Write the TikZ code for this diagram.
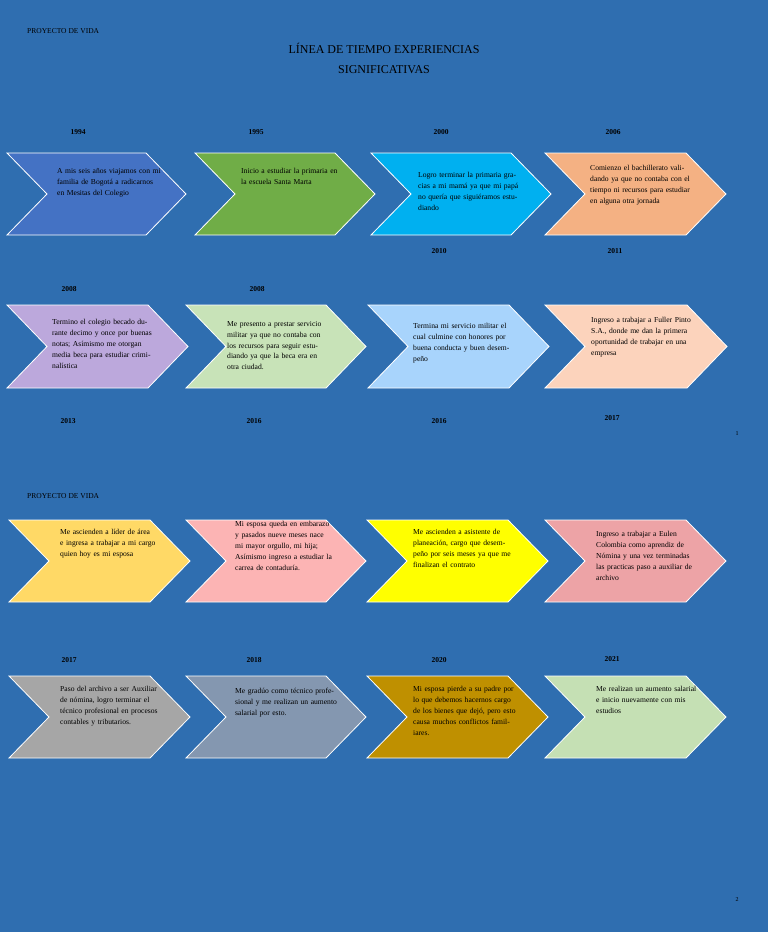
\documentclass[tikz,border=0pt]{standalone}
\usepackage{fontspec}
\setmainfont{Liberation Serif}
\definecolor{page}{HTML}{2F6EB0}
\definecolor{chev1}{HTML}{4472C4}
\definecolor{chev2}{HTML}{70AD47}
\definecolor{chev3}{HTML}{00B0F0}
\definecolor{chev4}{HTML}{F4B183}
\definecolor{chev5}{HTML}{BCA8DC}
\definecolor{chev6}{HTML}{C8E3B8}
\definecolor{chev7}{HTML}{A8D4FC}
\definecolor{chev8}{HTML}{FCD3BC}
\definecolor{chev9}{HTML}{FFD966}
\definecolor{chev10}{HTML}{FCB4B4}
\definecolor{chev11}{HTML}{FFFF00}
\definecolor{chev12}{HTML}{EDA3A6}
\definecolor{chev13}{HTML}{A6A6A6}
\definecolor{chev14}{HTML}{8497B0}
\definecolor{chev15}{HTML}{BF9000}
\definecolor{chev16}{HTML}{C5E0B4}
\tikzstyle{chevron}=[draw=white, line width=0.8pt]
\tikzstyle{event}=[anchor=north west, inner sep=0pt, text width=104pt, align=left,
  font=\fontsize{7.6}{10.9}\selectfont]
\tikzstyle{year}=[inner sep=0pt, font=\fontsize{7.5}{9}\selectfont\bfseries]
\tikzstyle{small}=[anchor=west, inner sep=0pt, font=\fontsize{7.5}{9}\selectfont]
% chevron: left, right, top, bottom, colour
\newcommand{\chev}[5]{%
  \fill[#5] (#1,#3) -- (#2-40,#3) -- (#2,{(#3+#4)/2}) -- (#2-40,#4) -- (#1,#4)
    -- (#1+40,{(#3+#4)/2}) -- cycle;
  \draw[chevron] (#1,#3) -- (#2-40,#3) -- (#2,{(#3+#4)/2}) -- (#2-40,#4) -- (#1,#4)
    -- (#1+40,{(#3+#4)/2}) -- cycle;}
\begin{document}
\begin{tikzpicture}[x=1pt, y=-1pt]
      \fill[page] (0,0) rectangle (768,932);
      \useasboundingbox (0,0) rectangle (768,932);

      \node (head1) at (27, 31) [small] {PROYECTO DE VIDA};
      \node (title) at (384, 58) [align=center, font=\fontsize{12}{20}\selectfont]
            {LÍNEA DE TIEMPO EXPERIENCIAS\\SIGNIFICATIVAS};

      % row 1
      \chev{7}{186}{153}{235}{chev1}
      \chev{195}{375}{153}{235}{chev2}
      \chev{371}{551}{153}{235}{chev3}
      \chev{545}{726}{153}{235}{chev4}
      \node (year1) at (78, 132) [year] {1994};
      \node (year2) at (256, 132) [year] {1995};
      \node (year3) at (441, 132) [year] {2000};
      \node (year4) at (613, 132) [year] {2006};
      \node (event1) at (57, 168) [event] {A mis seis años viajamos con mi familia de Bogotá a radicarnos en Mesitas del Colegio};
      \node (event2) at (241, 168) [event] {Inicio a estudiar la primaria en la escuela Santa Marta};
      \node (event3) at (418, 172) [event] {Logro terminar la primaria gracias a mi mamá ya que mi papá no quería que siguiéramos estudiando};
      \node (event4) at (590, 165) [event] {Comienzo el bachillerato validando ya que no contaba con el tiempo ni recursos para estudiar en alguna otra jornada};
      \node (year5) at (439, 251) [year] {2010};
      \node (year6) at (615, 251) [year] {2011};

      % row 2
      \chev{7}{188}{305}{388}{chev5}
      \chev{186}{366}{305}{388}{chev6}
      \chev{368}{549}{305}{388}{chev7}
      \chev{545}{727}{305}{388}{chev8}
      \node (year7) at (69, 289) [year] {2008};
      \node (year8) at (257, 289) [year] {2008};
      \node (event5) at (52, 319) [event] {Termino el colegio becado durante decimo y once por buenas notas; Asímismo me otorgan media beca para estudiar criminalística};
      \node (event6) at (227, 321) [event] {Me presento a prestar servicio militar ya que no contaba con los recursos para seguir estudiando ya que la beca era en otra ciudad.};
      \node (event7) at (413, 323) [event] {Termina mi servicio militar el cual culmine con honores por buena conducta y buen desempeño};
      \node (event8) at (591, 317) [event] {Ingreso a trabajar a Fuller Pinto S.A., donde me dan la primera oportunidad de trabajar en una empresa};
      \node (year9) at (68, 421) [year] {2013};
      \node (year10) at (254, 421) [year] {2016};
      \node (year11) at (439, 421) [year] {2016};
      \node (year12) at (612, 418) [year] {2017};
      \node (page1) at (737, 434) [year, font=\fontsize{6}{7}\selectfont] {1};

      % row 3
      \node (head2) at (27, 496) [small] {PROYECTO DE VIDA};
      \chev{9}{190}{520}{602}{chev9}
      \chev{186}{366}{520}{602}{chev10}
      \chev{367}{548}{520}{602}{chev11}
      \chev{545}{726}{520}{602}{chev12}
      \node (event9) at (60, 529) [event] {Me ascienden a líder de área e ingresa a trabajar a mi cargo quien hoy es mi esposa};
      \node (event10) at (235, 521) [event] {Mi esposa queda en embarazo y pasados nueve meses nace mi mayor orgullo, mi hija; Asímismo ingreso a estudiar la carrea de contaduría.};
      \node (event11) at (413, 529) [event] {Me ascienden a asistente de planeación, cargo que desempeño por seis meses ya que me finalizan el contrato};
      \node (event12) at (596, 531) [event] {Ingreso a trabajar a Eulen Colombia como aprendiz de Nómina y una vez terminadas las practicas paso a auxiliar de archivo};

      % row 4
      \chev{9}{190}{676}{758}{chev13}
      \chev{186}{366}{676}{758}{chev14}
      \chev{367}{548}{676}{758}{chev15}
      \chev{545}{726}{676}{758}{chev16}
      \node (year13) at (69, 660) [year] {2017};
      \node (year14) at (254, 660) [year] {2018};
      \node (year15) at (439, 660) [year] {2020};
      \node (year16) at (612, 659) [year] {2021};
      \node (event13) at (60, 686) [event] {Paso del archivo a ser Auxiliar de nómina, logro terminar el técnico profesional en procesos contables y tributarios.};
      \node (event14) at (235, 688) [event] {Me gradúo como técnico profesional y me realizan un aumento salarial por esto.};
      \node (event15) at (413, 686) [event] {Mi esposa pierde a su padre por lo que debemos hacernos cargo de los bienes que dejó, pero esto causa muchos conflictos familiares.};
      \node (event16) at (596, 686) [event] {Me realizan un aumento salarial e inicio nuevamente con mis estudios};
      \node (page2) at (737, 900) [year, font=\fontsize{6}{7}\selectfont] {2};
    \end{tikzpicture}
\end{document}
